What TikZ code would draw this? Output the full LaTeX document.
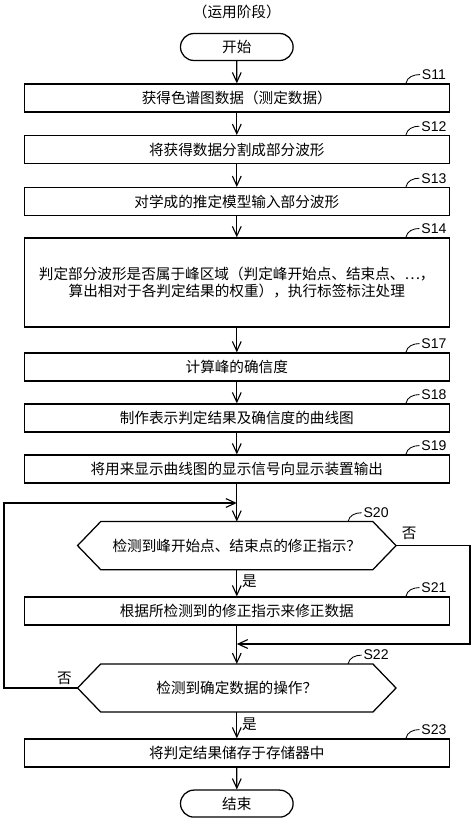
\documentclass[tikz,border=0pt]{standalone}
\usepackage{fontspec}
\newfontfamily\cjk{Noto Sans CJK SC}
\newfontfamily\lblfont{Liberation Sans}
\usetikzlibrary{arrows.meta, calc, shapes.misc}

\begin{document}
\begin{tikzpicture}[
  font=\cjk\fontsize{10.4}{12.6}\selectfont,
  line width=0.8pt,
  %% process step
  box/.style={
    draw, rectangle, minimum width=10.625cm, minimum height=0.7cm,
    inner sep=2pt, line width=0.9pt
  },
  %% start / end
  term/.style={
    draw, rounded rectangle, minimum width=3.05cm, minimum height=0.675cm,
    line width=0.9pt
  },
  %% decision (outline drawn separately as hexagon)
  decis/.style={
    rectangle, minimum width=6.775cm, minimum height=1.175cm, inner sep=2pt
  },
  arr/.style={
    -{Straight Barb[length=2.4mm,width=2.2mm]}, line width=0.8pt
  },
  stepnum/.style={
    font=\lblfont\fontsize{10}{12}\selectfont, inner sep=1pt
  },
  tick/.style={line width=0.6pt},
]

%% ── Frame ────────────────────────────────────────────────────────────────────
\useasboundingbox (0,0) rectangle (11.85,-20.575);

\def\cx{5.92}      % centre line (cm)
\def\chf{0.58}     % hexagon tip length

%% ── Nodes ────────────────────────────────────────────────────────────────────
\node (title) at (\cx,-0.30) {（运用阶段）};

\node[term] (start) at (\cx,-1.175) {开始};

\node[box] (s11) at (\cx,-2.45)  {获得色谱图数据（测定数据）};
\node[box] (s12) at (\cx,-3.74)  {将获得数据分割成部分波形};
\node[box] (s13) at (\cx,-5.04)  {对学成的推定模型输入部分波形};
\node[box, minimum height=2.225cm, align=center] (s14) at (\cx,-7.06)
  {判定部分波形是否属于峰区域（判定峰开始点、结束点、…，\\
   算出相对于各判定结果的权重），执行标签标注处理};
\node[box] (s17) at (\cx,-9.175) {计算峰的确信度};
\node[box] (s18) at (\cx,-10.45) {制作表示判定结果及确信度的曲线图};
\node[box] (s19) at (\cx,-11.725) {将用来显示曲线图的显示信号向显示装置输出};

\node[decis] (s20) at (\cx,-13.64) {检测到峰开始点、结束点的修正指示？};
\node[box] (s21) at (\cx,-15.275) {根据所检测到的修正指示来修正数据};
\node[decis] (s22) at (\cx,-17.2) {检测到确定数据的操作？};
\node[box] (s23) at (\cx,-18.825) {将判定结果储存于存储器中};

\node[term] (end) at (\cx,-20.09) {结束};

%% ── Hexagon outlines ─────────────────────────────────────────────────────────
\foreach \n in {s20,s22}{
  \coordinate (\n-e) at ($(\n.east)+(\chf,0)$);
  \coordinate (\n-w) at ($(\n.west)+(-\chf,0)$);
  \draw[line width=0.9pt]
    (\n.north west) -- (\n.north east) -- (\n-e) -- (\n.south east)
    -- (\n.south west) -- (\n-w) -- cycle;
}

%% ── Step numbers ─────────────────────────────────────────────────────────────
\foreach \n/\t/\dx in {s11/S11/-0.4, s12/S12/-0.4, s13/S13/-0.4,
    s14/S14/-0.4, s17/S17/-0.4, s18/S18/-0.4, s19/S19/-0.4,
    s20/S20/0.08, s21/S21/-0.4, s22/S22/0.08, s23/S23/-0.4}{
  \node[stepnum] (l\n) at ($(\n.north east)+(\dx,0.22)$) {\t};
  \draw[tick] ($(\n.north east)+(\dx-0.7,0)$) to[out=80,in=180] (l\n.west);
}

%% ── Main flow ────────────────────────────────────────────────────────────────
\draw[arr] (start) -- (s11);
\draw[arr] (s11) -- (s12);
\draw[arr] (s12) -- (s13);
\draw[arr] (s13) -- (s14);
\draw[arr] (s14) -- (s17);
\draw[arr] (s17) -- (s18);
\draw[arr] (s18) -- (s19);
\draw[arr] (s19) -- (s20);
\draw[arr] (s20) -- node[right, pos=0.45] (yes1) {是} (s21);
\draw[arr] (s21) -- (s22);
\draw[arr] (s22) -- node[right, pos=0.45] (yes2) {是} (s23);
\draw[arr] (s23) -- (end);

%% ── Branches ─────────────────────────────────────────────────────────────────
\coordinate (jn1) at (\cx,-12.575);
\coordinate (jn2) at (\cx,-16.1);
\coordinate (lp1) at (0.1,-12.575);
\coordinate (lp2) at (11.75,-16.1);

%% S20 no: round the right side, back to centre line
\draw[arr] (s20-e) -| (lp2) -- (jn2);
\node (no1) at ($(s20-e)+(0.33,0.3)$) {否};

%% S22 no: round the left side, back above S20
\draw[arr] (s22-w) -| (lp1) -- (jn1);
\node (no2) at ($(s22-w)+(-0.33,0.23)$) {否};

\end{tikzpicture}
\end{document}
